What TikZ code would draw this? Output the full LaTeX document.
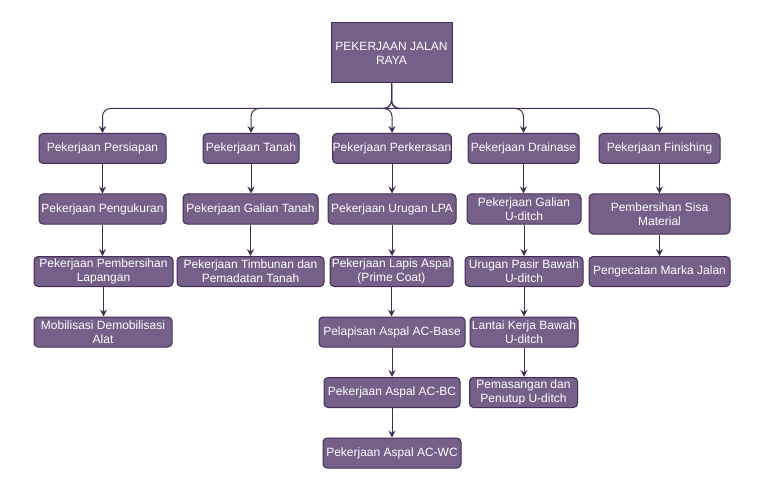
\documentclass[tikz,border=0pt]{standalone}
\usepackage{fontspec}
\setmainfont{Liberation Sans}
\usetikzlibrary{arrows.meta}
\definecolor{boxfill}{HTML}{76608A}
\definecolor{boxline}{HTML}{432D57}
\tikzset{
  box/.style={draw=boxline, fill=boxfill, text=white, line width=1pt, rounded corners=4pt,
    inner sep=0pt, align=center, minimum height=30pt, font=\fontsize{12}{14}\selectfont},
  rootbox/.style={box, rounded corners=0pt, minimum width=121pt, minimum height=60pt},
  edge/.style={draw=boxline, line width=1pt, -{Stealth[length=7pt,width=7pt,inset=2.5pt]}},
}
\begin{document}
\begin{tikzpicture}[x=1pt,y=-1pt]
\useasboundingbox (0,0) rectangle (768,497);
% root
\node[rootbox] (root) at (391.5,53) {PEKERJAAN JALAN\\RAYA};
% row 1
\node[box, minimum width=127pt] (a1) at (102.5,148.5) {Pekerjaan Persiapan};
\node[box, minimum width=96pt]  (b1) at (251,148.5) {Pekerjaan Tanah};
\node[box, minimum width=118pt] (c1) at (392,148.5) {Pekerjaan Perkerasan};
\node[box, minimum width=111pt] (d1) at (523.5,148.5) {Pekerjaan Drainase};
\node[box, minimum width=121pt] (e1) at (659.5,148.5) {Pekerjaan Finishing};
% row 2
\node[box, minimum width=127pt] (a2) at (102.5,209) {Pekerjaan Pengukuran};
\node[box, minimum width=135pt] (b2) at (250.5,209) {Pekerjaan Galian Tanah};
\node[box, minimum width=128pt] (c2) at (392,209) {Pekerjaan Urugan LPA};
\node[box, minimum width=114pt] (d2) at (524,209) {Pekerjaan Galian\\U-ditch};
\node[box, minimum width=141pt, minimum height=40pt] (e2) at (659.5,214) {Pembersihan Sisa\\Material};
% row 3
\node[box, minimum width=139pt] (a3) at (103.5,271.5) {Pekerjaan Pembersihan\\Lapangan};
\node[box, minimum width=147pt] (b3) at (250.5,271.5) {Pekerjaan Timbunan dan\\Pemadatan Tanah};
\node[box, minimum width=123pt] (c3) at (391.5,271.5) {Pekerjaan Lapis Aspal\\(Prime Coat)};
\node[box, minimum width=118pt] (d3) at (524,271.5) {Urugan Pasir Bawah\\U-ditch};
\node[box, minimum width=141pt] (e3) at (659.5,271.5) {Pengecatan Marka Jalan};
% row 4
\node[box, minimum width=138pt] (a4) at (103,332) {Mobilisasi Demobilisasi\\Alat};
\node[box, minimum width=146pt] (c4) at (392,332) {Pelapisan Aspal AC-Base};
\node[box, minimum width=108pt] (d4) at (524,332) {Lantai Kerja Bawah\\U-ditch};
% row 5
\node[box, minimum width=136pt] (c5) at (392,392.5) {Pekerjaan Aspal AC-BC};
\node[box, minimum width=108pt] (d5) at (523.5,392.5) {Pemasangan dan\\Penutup U-ditch};
% row 6
\node[box, minimum width=138pt] (c6) at (392,453) {Pekerjaan Aspal AC-WC};
% root edges
\foreach \t in {a1,b1,c1,d1,e1}{
  \draw[edge, rounded corners=8pt] (root.south) -- ++(0,25) -| (\t.north);
}
% column edges
\draw[edge] (a1.south) -- (a1.south |- a2.north);
\draw[edge] (a2.south) -- (a2.south |- a3.north);
\draw[edge] (a3.south) -- (a3.south |- a4.north);
\draw[edge] (b1.south) -- (b1.south |- b2.north);
\draw[edge] (b2.south) -- (b2.south |- b3.north);
\draw[edge] (c1.south) -- (c1.south |- c2.north);
\draw[edge] (c2.south) -- (c2.south |- c3.north);
\draw[edge] (c3.south) -- (c3.south |- c4.north);
\draw[edge] (c4.south) -- (c4.south |- c5.north);
\draw[edge] (c5.south) -- (c5.south |- c6.north);
\draw[edge] (d1.south) -- (d1.south |- d2.north);
\draw[edge] (d2.south) -- (d2.south |- d3.north);
\draw[edge] (d3.south) -- (d3.south |- d4.north);
\draw[edge] (d4.south) -- (d4.south |- d5.north);
\draw[edge] (e1.south) -- (e1.south |- e2.north);
\draw[edge] (e2.south) -- (e2.south |- e3.north);
\end{tikzpicture}
\end{document}
